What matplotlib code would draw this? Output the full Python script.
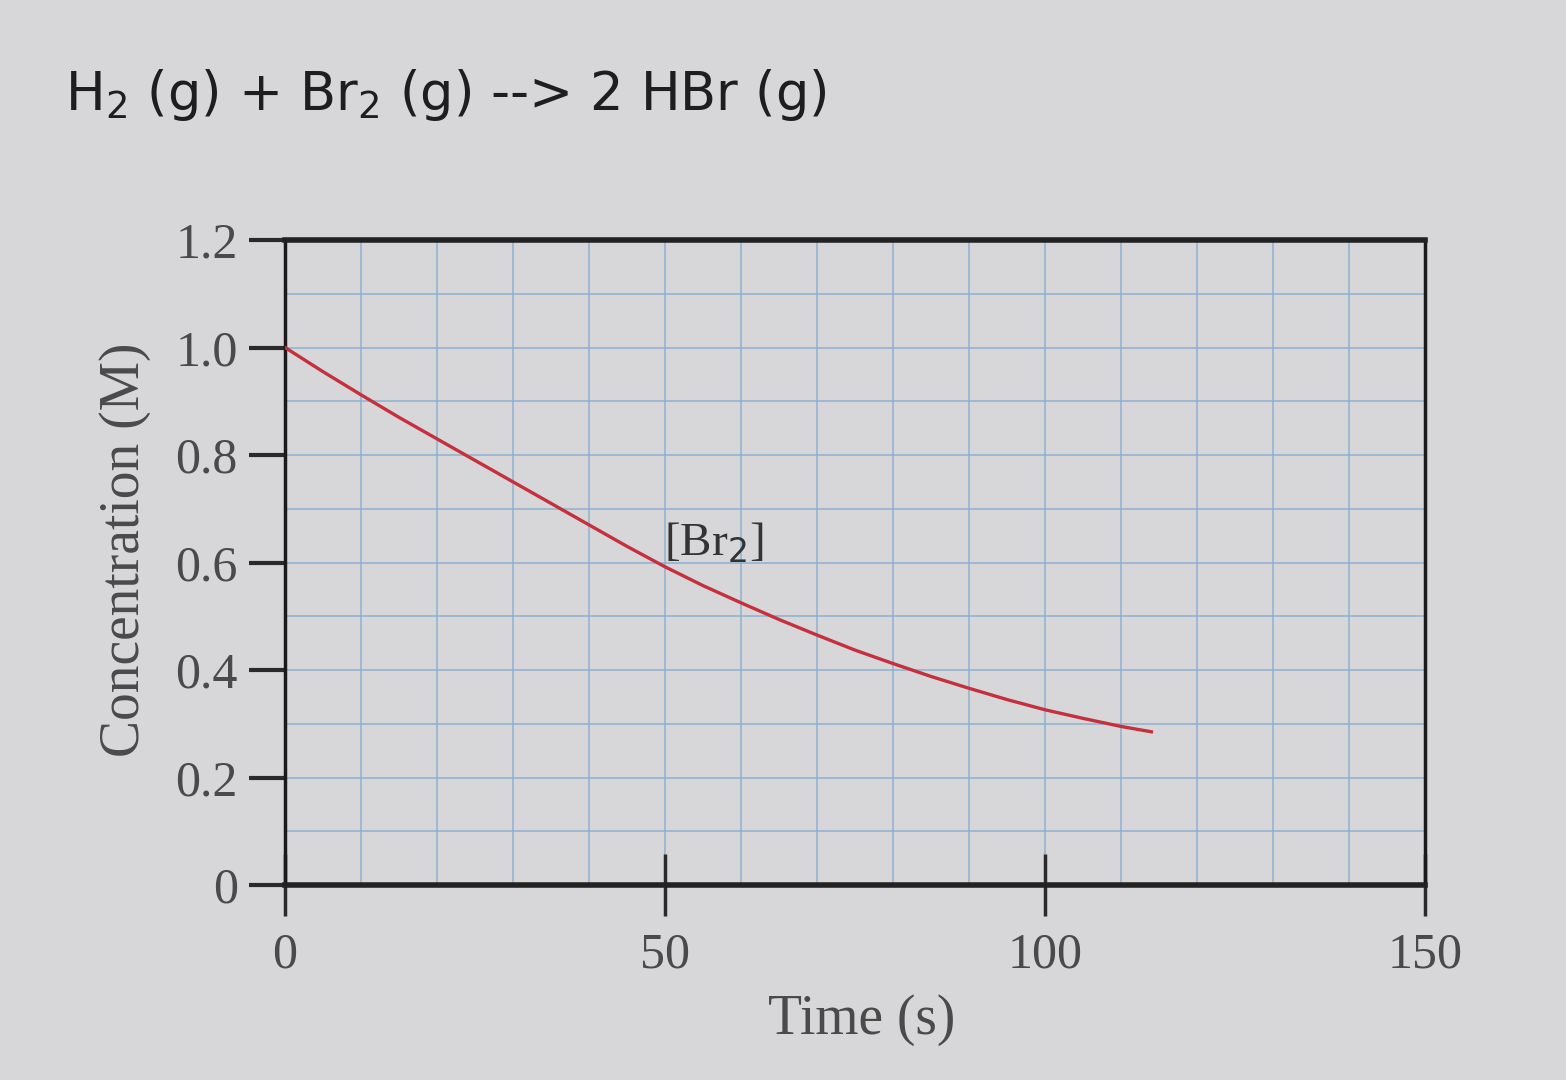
import matplotlib.pyplot as plt
import numpy as np

# values
time_s = [0, 5, 10, 15, 20, 25, 30, 35, 40, 45, 50, 55, 60, 65, 70, 75, 80,
          85, 90, 95, 100, 105, 110, 114]
br2_conc = [1.0, 0.955, 0.912, 0.87, 0.83, 0.79, 0.75, 0.71, 0.67, 0.63, 0.592,
            0.557, 0.525, 0.494, 0.465, 0.437, 0.412, 0.388, 0.366, 0.345,
            0.326, 0.31, 0.295, 0.285]

x_ticks = [0, 50, 100, 150]
x_tick_labels = ["0", "50", "100", "150"]
y_ticks = [0, 0.2, 0.4, 0.6, 0.8, 1.0, 1.2]
y_tick_labels = ["0", "0.2", "0.4", "0.6", "0.8", "1.0", "1.2"]

bg = "#d7d7d9"
plt.rcParams['mathtext.fontset'] = 'dejavusans'

fig = plt.figure(figsize=(15.66, 10.8), dpi=100, facecolor=bg)
ax = fig.add_axes([285/1566, 1-885/1080, (1425-285)/1566, (885-240)/1080])
ax.set_facecolor(bg)

ax.plot(time_s, br2_conc, color="#c4303c", lw=2.4, zorder=3)

ax.set_xlim(0, 150)
ax.set_ylim(0, 1.2)

# light blue grid every 10 s and every 0.1 M
ax.set_xticks(np.arange(10, 150, 10), minor=True)
ax.set_yticks(np.arange(0.1, 1.2, 0.1), minor=True)
ax.grid(which='both', color="#8aaed0", lw=1.3, alpha=0.8)
ax.tick_params(which='minor', length=0)

ax.set_xticks(x_ticks)
ax.set_xticklabels(x_tick_labels)
ax.set_yticks(y_ticks)
ax.set_yticklabels(y_tick_labels)

serif = ["Liberation Serif", "DejaVu Serif"]
for lab in ax.get_xticklabels() + ax.get_yticklabels():
    lab.set_fontfamily(serif)
    lab.set_fontsize(36)
    lab.set_color("#4a4a4a")

ax.tick_params(axis='y', which='major', direction='out', length=26, width=3,
               color="#2a2a2a", pad=8)
ax.tick_params(axis='x', which='major', direction='inout', length=44, width=2.5,
               color="#2a2a2a", pad=12)

for side in ['left', 'right']:
    ax.spines[side].set_linewidth(2.5)
    ax.spines[side].set_color("#1a1a1a")
for side in ['top', 'bottom']:
    ax.spines[side].set_linewidth(4)
    ax.spines[side].set_color("#222222")

ax.text(56.5, 0.635, r"[Br$_2$]", fontsize=34, family=serif, color="#333333",
        ha='center', va='center')

fig.text(65/1566, 1-95/1080, r"H$_2$ (g) + Br$_2$ (g) --> 2 HBr (g)",
         fontsize=38, family="DejaVu Sans", color="#1e1e1e", ha='left', va='center')
fig.text(125/1566, 1-550/1080, "Concentration (M)", rotation=90, fontsize=40,
         family=serif, color="#4a4a4a", ha='center', va='center')
fig.text(862/1566, 1-1020/1080, "Time (s)", fontsize=40, family=serif,
         color="#4a4a4a", ha='center', va='center')

plt.savefig("out.png", dpi=100, facecolor=bg)
print("out.png saved")
